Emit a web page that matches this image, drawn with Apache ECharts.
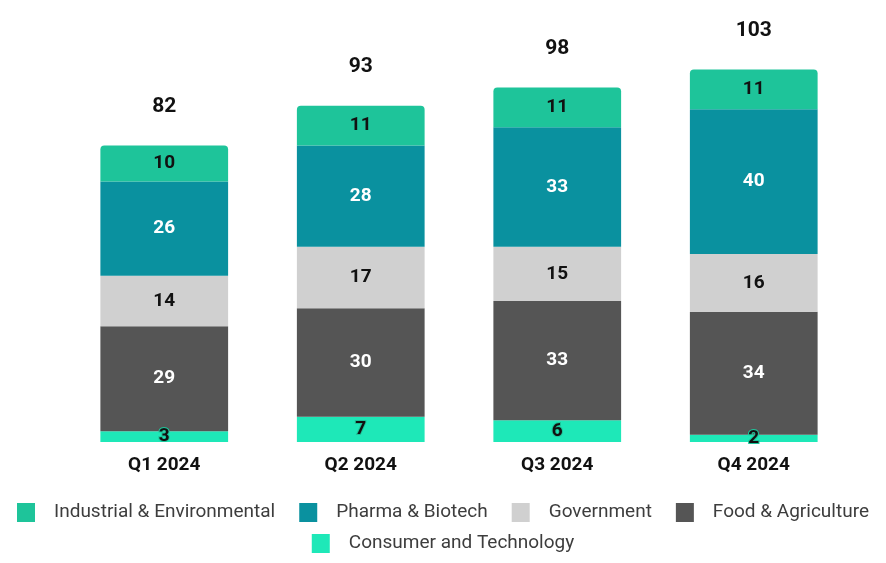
<!DOCTYPE html>
<html>
<head>
<meta charset="utf-8">
<script src="https://cdn.jsdelivr.net/npm/echarts@6/dist/echarts.min.js"></script>
<style>
  html, body { margin: 0; padding: 0; background: #fff; }
  #chart { width: 886px; height: 563px; }
</style>
</head>
<body>
<div id="chart"></div>
<script>
var quarters = ['Q1 2024', 'Q2 2024', 'Q3 2024', 'Q4 2024'];
var consumer = [3, 7, 6, 2];
var food = [29, 30, 33, 34];
var government = [14, 17, 15, 16];
var pharma = [26, 28, 33, 40];
var industrial = [10, 11, 11, 11];
var totals = [82, 93, 98, 103];

var myChart = echarts.init(document.getElementById('chart'));

function seg(name, data, color, textColor, extra) {
  var s = {
    name: name,
    type: 'bar',
    stack: 'all',
    barCategoryGap: '35%',
    data: data,
    itemStyle: { color: color },
    label: {
      show: true,
      position: 'inside',
      color: textColor,
      fontSize: 19,
      fontWeight: 'bold',
      fontFamily: 'Roboto'
    }
  };
  if (extra) extra(s);
  return s;
}

var legendText = { fontSize: 19, color: '#3d3d3d', fontFamily: 'Roboto', padding: [0, 0, 0, 14] };

var option = {
  animation: false,
  grid: { left: 66, right: 34, top: 8, bottom: 121 },
  xAxis: {
    type: 'category',
    data: quarters,
    axisLine: { show: false },
    axisTick: { show: false },
    axisLabel: {
      margin: 14,
      color: '#111',
      fontSize: 19,
      fontWeight: 'bold',
      fontFamily: 'Roboto'
    }
  },
  yAxis: {
    type: 'value',
    min: 0,
    max: 120,
    show: false,
    splitLine: { show: false }
  },
  legend: [
    {
      data: ['Industrial & Environmental', 'Pharma & Biotech', 'Government', 'Food & Agriculture'],
      left: 'center',
      top: 498,
      icon: 'rect',
      itemWidth: 18,
      itemHeight: 19,
      itemGap: 24,
      textStyle: legendText
    },
    {
      data: ['Consumer and Technology'],
      left: 'center',
      top: 529,
      icon: 'rect',
      itemWidth: 18,
      itemHeight: 19,
      textStyle: legendText
    }
  ],
  series: [
    seg('Consumer and Technology', consumer, '#1ee8b8', '#111', function (s) {
      s.label.textBorderColor = '#1ec49a';
      s.label.textBorderWidth = 2;
    }),
    seg('Food & Agriculture', food, '#555555', '#fff'),
    seg('Government', government, '#d0d0d0', '#111'),
    seg('Pharma & Biotech', pharma, '#0a919f', '#fff'),
    seg('Industrial & Environmental', industrial, '#1ec49a', '#111', function (s) {
      s.itemStyle.borderRadius = [4, 4, 0, 0];
    }),
    {
      name: 'Total',
      type: 'bar',
      stack: 'all',
      data: totals.map(function () { return 0; }),
      itemStyle: { color: 'transparent' },
      label: {
        show: true,
        position: 'top',
        distance: 28,
        color: '#111',
        fontSize: 21,
        fontWeight: 'bold',
        fontFamily: 'Roboto',
        formatter: function (p) { return totals[p.dataIndex]; }
      }
    }
  ]
};

myChart.clear();
myChart.setOption(option);
window.addEventListener('resize', () => { myChart.resize(); });
</script>
</body>
</html>
